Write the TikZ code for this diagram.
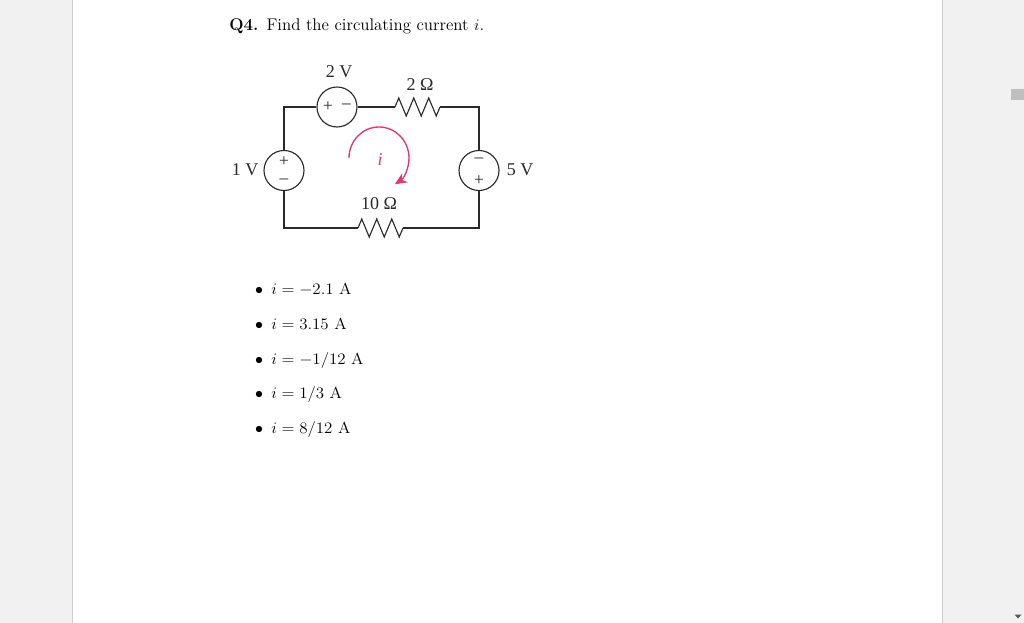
\documentclass[tikz,border=0pt]{standalone}
\usepackage{amsmath}
\usepackage{fontspec}
\newfontfamily\figfont{Liberation Serif}
\usetikzlibrary{arrows.meta, decorations.pathmorphing, calc}
\definecolor{pagegrey}{HTML}{F1F1F1}
\definecolor{edgegrey}{HTML}{CDCDCD}
\definecolor{loopred}{HTML}{E8336D}
\definecolor{inkgrey}{HTML}{2A2A2A}
\tikzset{
  source/.style = {draw=inkgrey, circle, line width=0.85pt, minimum size=30pt, inner sep=0pt},
  sign/.style = {font=\figfont\fontsize{13}{13}\selectfont, text=inkgrey, inner sep=0pt},
  value/.style = {font=\figfont\fontsize{13.5}{13.5}\selectfont, text=inkgrey, inner sep=0pt},
  wire/.style = {draw=inkgrey, line width=0.85pt},
  resistor/.style = {wire, decorate, decoration={zigzag, segment length=11.25pt, amplitude=6.75pt}},
  answer/.style = {anchor=base west, inner sep=0pt, xscale=1.06, transform shape, font=\fontsize{12}{12}\selectfont},
}
\begin{document}
\begin{tikzpicture}[x=0.75pt, y=-0.75pt]
\useasboundingbox (0,0) rectangle (1024,623);
\fill [pagegrey] (0,0) rectangle (1024,623);
\fill [white] (72,0) rectangle (942,623);
\draw [edgegrey] (72,0) -- (72,623);
\draw [edgegrey] (942,0) -- (942,623);
\fill [black!25] (1011,89) rectangle (1024,100);
\fill [black!65] (1014.5,614.5) -- (1021.5,614.5) -- (1018,618.5) -- cycle;

\node (question) [anchor=base west, inner sep=0pt, font=\fontsize{12.7}{12.7}\selectfont] at (229,31) {\textbf{Q4.}\hspace{6.2pt}Find the circulating current $i$.};

\node (Vtop) [source] at (337,107) {};
\node (Vleft) [source] at (284,170.5) {};
\node (Vright) [source] at (479,170.5) {};
\coordinate (Rtopa) at (395,107);
\coordinate (Rtopb) at (440,107);
\coordinate (Rbota) at (358,228);
\coordinate (Rbotb) at (403,228);

\draw [wire] (Vleft.north) |- (Vtop.west);
\draw [wire] (Vtop.east) -- (Rtopa);
\draw [resistor] (Rtopa) -- (Rtopb);
\draw [wire] (Rtopb) -| (Vright.north);
\draw [wire] (Vright.south) |- (Rbotb);
\draw [resistor] (Rbota) -- (Rbotb);
\draw [wire] (Rbota) -| (Vleft.south);

\node (Ptop) [sign] at (328,107) {+};
\node (Mtop) [sign] at (346.5,106) {–};
\node (Pleft) [sign] at (284,162) {+};
\node (Mleft) [sign] at (284,181) {–};
\node (Mright) [sign] at (479,160) {–};
\node (Pright) [sign] at (479,181) {+};

\node (Ltwov) [value] at (339,72) {2 V};
\node (Ltwoo) [value] at (420,85) {2 Ω};
\node (Lonev) [value] at (245,170) {1 V};
\node (Lfivev) [value] at (520,170) {5 V};
\node (Lteno) [value] at (379,204) {10 Ω};
\node (Li) [value, text=loopred] at (380,160) {\textit{i}};

\coordinate (loopstart) at (349,158);
\draw [loopred, line width=1pt, -{Stealth[length=9pt, width=8pt]}] (loopstart) arc [start angle=180, end angle=418, x radius=30, y radius=31];

\foreach \n/\y/\txt in {a/294.5/{$i=-2.1$ A}, b/329.5/{$i=3.15$ A}, c/364/{$i=-1/12$ A}, d/398.5/{$i=1/3$ A}, e/433.5/{$i=8/12$ A}}{
  \node (bullet\n) [anchor=base, inner sep=0pt, font=\fontsize{12.7}{12.7}\selectfont] at (259,\y) {$\bullet$};
  \node (answer\n) [answer] at (271,\y) {\txt};
}
\end{tikzpicture}
\end{document}
